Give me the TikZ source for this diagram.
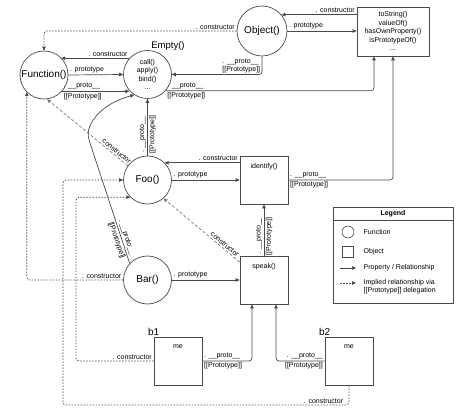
\documentclass[tikz,border=0pt]{standalone}
\usepackage{fontspec}
\setmainfont{Liberation Sans}
\usepackage{tikz}
\usetikzlibrary{arrows.meta, positioning}
\definecolor{linegray}{HTML}{4A4A4A}
\definecolor{dashgray}{HTML}{7A7A7A}

\begin{document}
\begin{tikzpicture}[x=1pt, y=-1pt,
    lbl/.style={font=\fontsize{7}{8}\selectfont, inner sep=1.5pt},
    boxtext/.style={font=\fontsize{7}{8.4}\selectfont, align=center, inner sep=1.5pt},
    rel/.style={draw=linegray, line width=0.7pt, -{Triangle[length=4pt,width=3.5pt]}, rounded corners=3pt},
    implied/.style={rel, dash pattern=on 1.5pt off 1.5pt},
    impdash/.style={rel, draw=dashgray, dash pattern=on 3pt off 2pt}]
  \useasboundingbox (0,0) rectangle (474,409);
  % functions
  \begin{scope}[every node/.style={draw=linegray, line width=0.7pt, circle, minimum size=48pt, inner sep=0pt, font=\fontsize{10}{12}\selectfont}]
    \node (object) at (262,31) [minimum size=50pt] {Object()};
    \node (function) at (44,75) {Function()};
    \node (empty) at (147.5,74.5) [font=\fontsize{7}{8.6}\selectfont, align=center] {call()\\apply()\\bind()\\...};
    \node (foo) at (147.5,180) {Foo()};
    \node (bar) at (147.5,280) {Bar()};
  \end{scope}
  % objects
  \begin{scope}[every node/.style={draw=linegray, line width=0.7pt, rectangle, minimum size=48pt, inner sep=0pt}]
    \node (objproto) at (393,31.5) [minimum width=72pt, minimum height=49pt] {};
    \node (identify) at (264,180) {};
    \node (speak) at (264,280) {};
    \node (b1) at (178,361) {};
    \node (b2) at (349,361) {};
  \end{scope}
  \node[boxtext, below=3.5pt of objproto.north] (objprototext) {toString()\\valueOf()\\hasOwnProperty()\\isPrototypeOf()\\...};
  \node[boxtext, below=6pt of identify.north] (identifytext) {identify()};
  \node[boxtext, below=6pt of speak.north] (speaktext) {speak()};
  \node[boxtext, below=6pt of b1.north] (b1text) {me};
  \node[boxtext, below=6pt of b2.north] (b2text) {me};
  \node[font=\fontsize{10}{12}\selectfont, inner sep=1pt, above=0pt of b1.north west] (b1name) {b1};
  \node[font=\fontsize{10}{12}\selectfont, inner sep=1pt, above=0pt of b2.north west] (b2name) {b2};
  \node[font=\fontsize{9.5}{11}\selectfont, inner sep=1pt] (emptyname) at (168,46) {Empty()};

  \coordinate (opin1) at ([xshift=-19pt]objproto.south);
  \coordinate (spkin1) at ([xshift=-12pt]speak.south);
  \coordinate (spkin2) at ([xshift=12pt]speak.south);
  \coordinate (barbend) at (89,140);
  \coordinate (b1lane) at (76,361);
  \coordinate (b2corner) at (63,405);

  % Object()
  \draw[rel] (object.40 -| objproto.west) node[lbl, above left] {. constructor} -- (object.40);
  \draw[rel] (object.east) node[lbl, above right] {. prototype} -- (object.east -| objproto.west);
  \draw[implied] (object.west) node[lbl, above left] {. constructor} -- (object.west -| function.north) -- (function.north);
  \draw[rel] (object.south) -- (object.south |- empty.east) node[lbl, above left, align=left] {. \_\_proto\_\_\\{}[[Prototype]]} -- (empty.east);
  \draw[rel] (empty.-42) node[lbl, above right] {. \_\_proto\_\_} node[lbl, below right] {[[Prototype]]} -- (empty.-42 -| opin1) -- (opin1);

  % Function()
  \draw[rel] (empty.138) node[lbl, above left] {. constructor} -- (empty.138 -| function.45);
  \draw[rel] (function.east) node[lbl, above right] {. prototype} -- (empty.west);
  \draw[rel] (function.-42) node[lbl, above right] {. \_\_proto\_\_} node[lbl, below right] {[[Prototype]]} -- (function.-42 -| empty.222);

  % Foo()
  \draw[rel] (foo.north) -- node[lbl, pos=0.37, sloped, above] {. \_\_proto\_\_} node[lbl, pos=0.37, sloped, below] {[[Prototype]]} (empty.south);
  \draw[impdash] (foo.144) -- node[lbl, pos=0.17, sloped, above] {constructor} (function.-83);
  \draw[rel] (foo.45 -| identify.west) node[lbl, above left] {. constructor} -- (foo.45);
  \draw[rel] (foo.east) node[lbl, above right] {. prototype} -- (identify.west);
  \draw[rel] (identify.east) node[lbl, above right] {. \_\_proto\_\_} node[lbl, below right] {[[Prototype]]} -- (identify.east -| objproto.south) -- (objproto.south);

  % Bar()
  \draw[rel] (bar.east) node[lbl, above right] {. prototype} -- (speak.west);
  \draw[rel] (bar.137) -- node[lbl, pos=0.2, rotate=-71, anchor=south] {. \_\_proto\_\_} node[lbl, pos=0.2, rotate=-71, anchor=north] {[[Prototype]]} (barbend) .. controls (86,125) and (100,104) .. (empty.237);
  \draw[implied] (bar.west) node[lbl, above left] {. constructor} -- (bar.west -| function.225) -- (function.225);

  % speak()
  \draw[rel] (speak.north) -- node[lbl, pos=0.38, sloped, above] {. \_\_proto\_\_} node[lbl, pos=0.38, sloped, below] {[[Prototype]]} (identify.south);
  \draw[impdash] ([yshift=18pt]speak.west) -- node[lbl, pos=0.23, sloped, above] {constructor} (foo.-49);

  % b1, b2
  \draw[rel] (b1.east) node[lbl, above right] {. \_\_proto\_\_} node[lbl, below right] {[[Prototype]]} -- (b1.east -| spkin1) -- (spkin1);
  \draw[rel] (b2.west) node[lbl, above left] {. \_\_proto\_\_} node[lbl, below left] {[[Prototype]]} -- (b2.west -| spkin2) -- (spkin2);
  \draw[implied] (b1.west) node[lbl, above left] {. constructor} -- (b1.west -| b1lane) -- (b1lane |- foo.225) -- (foo.225);
  \draw[implied] (b2.south) -- (b2.south |- b2corner) node[lbl, above left, xshift=-4pt] {. constructor} -- (b2corner) -- (b2corner |- foo.west) -- (foo.west);

  % legend
  \node[draw=linegray, line width=0.7pt, minimum width=120pt, minimum height=96pt, inner sep=0pt] (legend) at (393,255) {};
  \node[font=\bfseries\fontsize{7}{8}\selectfont, inner sep=1pt] (legendtitle) at (393,214) {Legend};
  \draw[linegray, line width=0.7pt] ([yshift=-14pt]legend.north west) -- ([yshift=-14pt]legend.north east);
  \node[draw=linegray, line width=0.6pt, circle, minimum size=12pt, inner sep=0pt] (keyfn) at (348,232) {};
  \node[lbl, anchor=west] (keyfntext) at (362,232) {Function};
  \node[draw=linegray, line width=0.6pt, rectangle, minimum size=11pt, inner sep=0pt] (keyobj) at (348,251.5) {};
  \node[lbl, anchor=west] (keyobjtext) at (362,252) {Object};
  \coordinate (keyrela) at (340,268);
  \coordinate (keyrelb) at (356,268);
  \draw[rel] (keyrela) -- (keyrelb);
  \node[lbl, anchor=west] (keyreltext) at (362,268) {Property / Relationship};
  \coordinate (keyimpa) at (340,283);
  \coordinate (keyimpb) at (356,283);
  \draw[implied] (keyimpa) -- (keyimpb);
  \node[lbl, anchor=west, align=left] (keyimptext) at (362,287) {Implied relationship via\\{}[[Prototype]] delegation};
\end{tikzpicture}
\end{document}
